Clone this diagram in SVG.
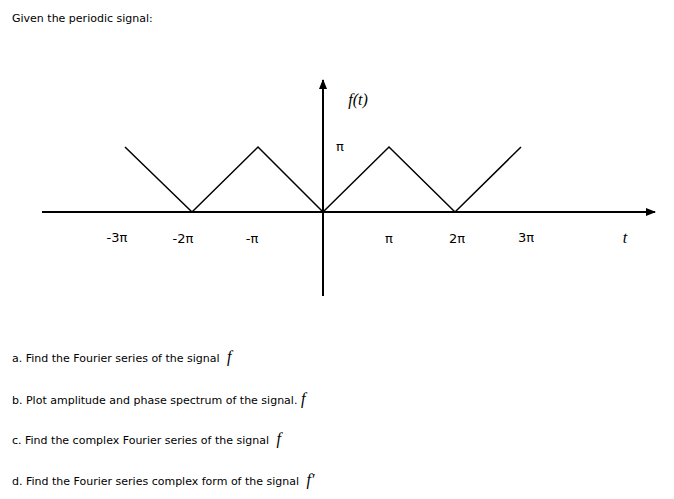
<svg xmlns="http://www.w3.org/2000/svg" width="674" height="499" viewBox="0 0 674 499">
<style>
.t{font-family:"DejaVu Sans",sans-serif;font-size:11px;fill:#000}
.l{font-family:"DejaVu Sans",sans-serif;font-size:13px;fill:#000}
.s{font-family:"Liberation Serif",serif;font-style:italic;font-size:16px;fill:#000}
.ax{stroke:#000;stroke-width:2;fill:none}
</style>
<defs>
<marker id="ah" markerWidth="10" markerHeight="8" refX="9" refY="4" orient="auto" markerUnits="userSpaceOnUse"><path d="M0,0 L10,4 L0,8 z" fill="#000"/></marker>
</defs>
<rect width="674" height="499" fill="#fff"/>
<text class="t" x="12" y="22">Given the periodic signal:</text>
<g id="connectors">
<line class="ax" x1="42" y1="212" x2="655" y2="212" marker-end="url(#ah)"/>
<line class="ax" x1="323" y1="296" x2="323" y2="80" marker-end="url(#ah)"/>
</g>
<g id="wave">
<polyline points="125,147 192,212 258,147 323,212 389,147 455,212 521,147" fill="none" stroke="#000" stroke-width="1.5"/>
</g>
<g id="labels">
<text class="l" x="117" y="242" text-anchor="middle">-3π</text>
<text class="l" x="183" y="243" text-anchor="middle">-2π</text>
<text class="l" x="252" y="243" text-anchor="middle">-π</text>
<text class="l" x="389" y="243" text-anchor="middle">π</text>
<text class="l" x="457" y="243" text-anchor="middle">2π</text>
<text class="l" x="526" y="242" text-anchor="middle">3π</text>
<text class="s" x="625" y="243" text-anchor="middle" font-size="13">t</text>
<text class="l" x="340" y="151" text-anchor="middle">π</text>
<text class="s" x="358" y="105" text-anchor="middle">f(t)</text>
</g>
<text class="t" x="12" y="362">a. Find the Fourier series of the signal <tspan class="s" dx="4">f</tspan></text>
<text class="t" x="12" y="404">b. Plot amplitude and phase spectrum of the signal. <tspan class="s">f</tspan></text>
<text class="t" x="12" y="444">c. Find the complex Fourier series of the signal <tspan class="s" dx="4">f</tspan></text>
<text class="t" x="12" y="485">d. Find the Fourier series complex form of the signal <tspan class="s" dx="4">f′</tspan></text>
</svg>
